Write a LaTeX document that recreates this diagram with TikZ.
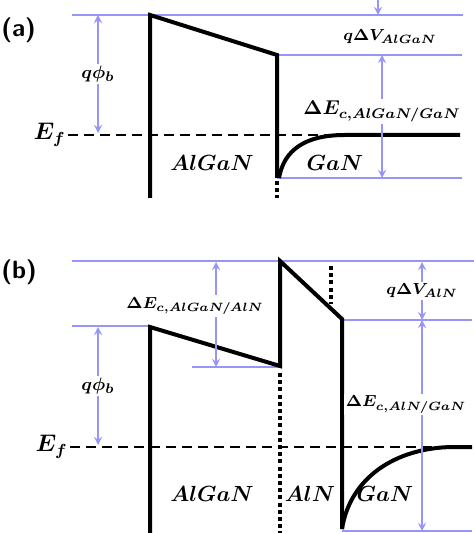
\documentclass[tikz,border=0pt]{standalone}
\usepackage{bm}
\definecolor{nivell}{RGB}{150,150,250}
\tikzset{
	banda/.style={line width=2pt, line join=miter},
	linia/.style={nivell, line width=0.8pt},
	fletxa/.style={nivell, line width=0.8pt, >=stealth},
	fermi/.style={line width=1pt, dash pattern=on 5pt off 3pt},
	interf/.style={line width=2pt, dash pattern=on 2pt off 1.6pt},
	etiq/.style={text=black, font=\boldmath\fontsize{#1}{#1}\selectfont, inner sep=1pt},
	etiq/.default=11,
	panell/.style={font=\sffamily\bfseries\fontsize{12.5}{15}\selectfont, inner sep=0.5pt, anchor=west},
}
\begin{document}
\begin{tikzpicture}[x=0.5pt,y=-0.5pt]
	\useasboundingbox (0,0) rectangle (474,533);

	% (a) AlGaN/GaN
	\node[panell] (pa) at (0,30) {(a)};
	\coordinate (a0) at (72,15);    \coordinate (a1) at (463,15);
	\coordinate (b0) at (277,55);   \coordinate (b1) at (462,55);
	\coordinate (c0) at (277,178);  \coordinate (c1) at (462,178);
	\foreach \p/\q in {a0/a1,b0/b1,c0/c1} {
		\draw[linia] (\p) -- (\q);
	}

	\coordinate (Sa) at (150,15);
	\coordinate (Sb) at (150,198);
	\coordinate (Ia) at (279,178);
	\coordinate (Ib) at (277,198);
	\coordinate (Fa) at (68,135);
	\coordinate (Fb) at (345,135);
	\coordinate (Fc) at (460,135);

	\draw[fermi] (Fa) -- (Fb);
	\node[etiq=12, left] (efa) at (Fa) {$E_f$};
	\draw[banda] (Sb) -- (Sa) -- (b0) -- (c0);
	\draw[interf] (c0) ++(0,3) -- (Ib);
	\draw[banda] (Ia) .. controls (284,150) and (305,135) .. (Fb) -- (Fc);

	\coordinate (pa0) at (98,15);  \coordinate (pa1) at (98,133);
	\draw[fletxa,<->] (pa0) -- (pa1) node[etiq=9.5, midway, fill=white] (phia) {$q\phi_b$};
	\coordinate (va0) at (378,0);  \coordinate (va1) at (378,15);
	\draw[fletxa,->] (va0) -- (va1);
	\node[etiq=8] (dva) at (390,37) {$q\Delta V_{AlGaN}$};
	\coordinate (ea0) at (382,55); \coordinate (ea1) at (382,178);
	\draw[fletxa,<->] (ea0) -- (ea1) node[etiq=10, pos=0.46, fill=white] (dea) {$\Delta E_{c,AlGaN/GaN}$};

	\node[etiq] (alganA) at (212,163) {$AlGaN$};
	\node[etiq] (ganA) at (335,163) {$GaN$};

	% (b) AlGaN/AlN/GaN
	\node[panell] (pb) at (0,272) {(b)};
	\coordinate (d0) at (72,261);  \coordinate (d1) at (474,261);
	\coordinate (e0) at (72,326);  \coordinate (e1) at (150,326);
	\coordinate (f0) at (192,367); \coordinate (f1) at (282,367);
	\coordinate (g0) at (342,320); \coordinate (g1) at (472,320);
	\coordinate (h0) at (342,531); \coordinate (h1) at (472,531);
	\foreach \p/\q in {d0/d1,e0/e1,f0/f1,g0/g1,h0/h1} {
		\draw[linia] (\p) -- (\q);
	}

	\coordinate (Sc) at (150,533);
	\coordinate (Sd) at (150,327);
	\coordinate (Na) at (280,366);
	\coordinate (Nb) at (280,261);
	\coordinate (Nc) at (342,319);
	\coordinate (Nd) at (342,529);
	\coordinate (Ga) at (70,447);
	\coordinate (Gb) at (452,447);
	\coordinate (Gc) at (472,447);

	\draw[fermi] (Ga) -- (Gb);
	\node[etiq=12, left] (efb) at (Ga) {$E_f$};
	\draw[interf] (280,373) -- (280,533);
	\draw[interf] (331,266) -- (331,304);
	\draw[banda] (Sc) -- (Sd) -- (Na) -- (Nb) -- (Nc) -- (Nd);
	\draw[banda] (Nd) .. controls (350,478) and (395,448) .. (Gb) -- (Gc);

	\coordinate (pb0) at (98,327); \coordinate (pb1) at (98,445);
	\draw[fletxa,<->] (pb0) -- (pb1) node[etiq=9.5, midway, fill=white] (phib) {$q\phi_b$};
	\coordinate (kb0) at (216,262); \coordinate (kb1) at (216,367);
	\draw[fletxa,<->] (kb0) -- (kb1);
	\node[etiq=8.5, fill=white] (deb1) at (195,306) {$\Delta E_{c,AlGaN/AlN}$};
	\coordinate (vb0) at (422,262); \coordinate (vb1) at (422,320);
	\draw[fletxa,<->] (vb0) -- (vb1) node[etiq=8, midway, fill=white] (dvb) {$q\Delta V_{AlN}$};
	\coordinate (eb0) at (422,320); \coordinate (eb1) at (422,531);
	\draw[fletxa,<->] (eb0) -- (eb1) node[etiq=8.5, pos=0.4, fill=white, xshift=-8pt] (deb2) {$\Delta E_{c,AlN/GaN}$};

	\node[etiq] (alganB) at (212,494) {$AlGaN$};
	\node[etiq] (alnB) at (310,494) {$AlN$};
	\node[etiq] (ganB) at (385,494) {$GaN$};
\end{tikzpicture}
\end{document}
